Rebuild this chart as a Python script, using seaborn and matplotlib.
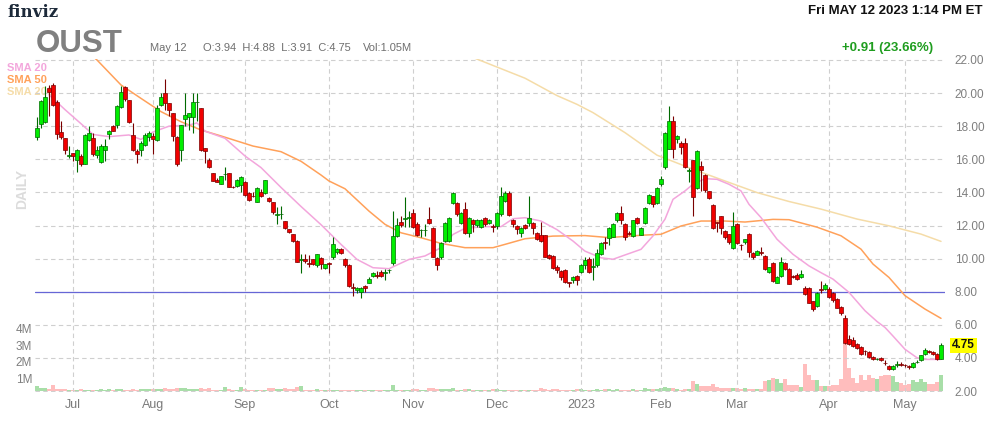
import numpy as np
import pandas as pd
import matplotlib
matplotlib.use("Agg")
import matplotlib.pyplot as plt
import matplotlib.transforms as mtransforms
import seaborn as sns

sns.set_style("white")
plt.rcParams['font.family'] = ['Liberation Sans', 'DejaVu Sans']

# ---------------- data ----------------
holidays = ["2022-06-20", "2022-07-04", "2022-09-05", "2022-11-24", "2022-12-26",
            "2023-01-02", "2023-01-16", "2023-02-20", "2023-04-07"]
dates = pd.bdate_range("2022-06-17", "2023-05-12", freq="C", holidays=holidays)

opens = [17.33, 18.13, 18.23, 20.29, 20.49, 19.44, 17.67, 17.27, 16.20, 16.36,
         15.96, 16.20, 15.70, 17.17, 17.27, 16.26, 15.82, 16.56, 17.53, 18.00,
         18.07, 19.18, 20.35, 19.58, 17.45, 16.50, 16.56, 16.86, 17.33, 17.40,
         17.17, 19.28, 19.99, 19.38, 18.78, 17.37, 16.56, 18.41, 18.54, 18.54,
         19.44, 19.08, 16.66, 15.96, 15.15, 14.75, 14.51, 15.10, 15.15, 14.35,
         14.40, 14.45, 14.65, 13.94, 13.80, 13.40, 14.04, 13.94, 13.68, 13.44,
         12.66, 12.68, 12.25, 11.77, 11.47, 11.06, 9.90, 9.95, 9.75, 9.95,
         9.60, 10.05, 9.45, 9.75, 10.12, 10.40, 10.60, 10.00, 9.60, 8.30,
         8.10, 8.00, 8.35, 8.55, 8.95, 9.00, 9.20, 9.15, 9.30, 9.71,
         11.36, 12.20, 12.40, 12.45, 12.74, 12.10, 11.70, 11.70, 12.40, 11.87,
         10.06, 10.12, 11.08, 11.08, 13.38, 13.38, 12.15, 13.00, 11.57, 12.35,
         12.05, 11.90, 12.47, 12.18, 11.95, 11.98, 12.67, 13.50, 13.94, 12.35,
         12.00, 11.57, 12.00, 12.18, 12.18, 11.53, 11.40, 11.40, 10.20, 10.16,
         9.50, 9.25, 9.30, 8.60, 8.70, 8.95, 9.20, 9.60, 10.00, 9.50,
         9.60, 10.26, 11.00, 11.27, 11.33, 12.33, 12.78, 12.11, 11.55, 11.37,
         12.43, 11.43, 12.17, 13.38, 13.79, 13.38, 14.53, 15.54, 16.65, 18.32,
         17.25, 17.01, 17.01, 15.30, 15.96, 14.29, 15.60, 15.03, 14.09, 13.22,
         12.20, 12.58, 11.67, 11.47, 10.66, 12.11, 10.83, 11.03, 11.51, 10.36,
         10.22, 10.38, 10.16, 9.19, 9.76, 8.55, 8.95, 9.76, 9.40, 8.93,
         9.00, 8.90, 8.25, 8.24, 7.44, 7.14, 8.15, 8.18, 8.18, 7.94,
         7.54, 7.10, 6.43, 5.16, 5.08, 4.82, 4.66, 4.44, 4.38, 4.08,
         3.92, 3.97, 3.70, 3.51, 3.31, 3.60, 3.63, 3.57, 3.50, 3.47,
         3.74, 3.85, 4.22, 4.38, 4.36, 4.26, 3.94]
highs = [18.58, 19.60, 20.40, 20.50, 20.63, 19.60, 18.30, 17.30, 16.80, 16.40,
         16.60, 16.30, 17.50, 18.00, 17.60, 16.80, 16.90, 17.20, 17.80, 18.10,
         19.30, 20.40, 20.40, 19.60, 18.20, 16.60, 17.10, 17.60, 17.70, 17.60,
         19.30, 20.00, 20.85, 19.40, 18.80, 17.40, 18.10, 20.00, 18.80, 20.00,
         20.00, 19.10, 16.70, 16.10, 15.20, 14.90, 15.00, 15.55, 15.20, 14.40,
         14.80, 15.00, 14.70, 14.00, 14.00, 14.30, 14.20, 14.76, 13.70, 13.45,
         13.10, 13.20, 12.30, 11.80, 11.50, 11.10, 10.30, 10.30, 10.20, 10.00,
         10.30, 10.10, 9.70, 9.80, 11.30, 10.65, 10.65, 10.05, 9.65, 8.55,
         8.30, 8.30, 8.40, 8.90, 9.20, 9.25, 9.30, 9.35, 9.40, 12.90,
         12.45, 12.60, 13.70, 12.90, 13.00, 12.20, 11.80, 12.10, 13.10, 11.90,
         10.10, 11.00, 12.20, 12.50, 14.00, 13.40, 12.80, 13.40, 12.50, 12.40,
         12.40, 12.40, 12.50, 12.40, 12.10, 12.80, 14.30, 14.10, 14.10, 12.40,
         12.05, 11.90, 12.10, 13.80, 12.20, 11.60, 12.20, 11.45, 10.25, 10.20,
         9.60, 9.30, 9.35, 8.60, 8.95, 9.00, 9.70, 10.10, 10.10, 10.05,
         10.60, 11.00, 11.30, 11.90, 12.15, 12.80, 13.20, 12.15, 11.65, 12.35,
         12.50, 11.90, 13.10, 13.90, 13.80, 14.30, 15.00, 17.65, 19.20, 18.60,
         17.45, 17.10, 17.30, 15.50, 15.98, 16.55, 15.90, 15.10, 14.10, 13.30,
         12.20, 12.60, 11.70, 11.50, 12.80, 12.15, 10.90, 11.20, 11.55, 10.40,
         10.50, 10.70, 10.20, 9.50, 9.80, 8.95, 10.10, 9.80, 9.45, 9.00,
         9.10, 9.30, 8.35, 8.30, 7.45, 8.00, 8.65, 8.50, 8.30, 8.00,
         7.60, 7.15, 6.60, 5.40, 5.25, 4.90, 4.70, 4.50, 4.42, 4.12,
         3.98, 4.05, 3.85, 3.55, 3.55, 3.80, 3.75, 3.65, 3.60, 3.75,
         3.85, 4.20, 4.60, 4.45, 4.40, 4.30, 4.88]
lows = [17.17, 17.90, 18.20, 18.60, 19.20, 17.20, 17.20, 16.30, 16.05, 15.90,
        15.25, 15.60, 15.70, 17.10, 16.20, 16.10, 15.80, 15.90, 17.20, 17.70,
        17.90, 19.10, 19.50, 18.20, 16.50, 15.80, 16.20, 16.80, 17.10, 16.30,
        17.10, 19.20, 19.00, 18.60, 17.10, 15.60, 15.90, 18.00, 17.80, 17.60,
        18.30, 16.50, 15.80, 15.50, 14.70, 14.60, 14.50, 14.75, 14.30, 14.25,
        14.30, 14.00, 13.80, 13.50, 13.70, 13.40, 13.70, 13.90, 13.40, 12.70,
        12.10, 12.40, 11.80, 11.55, 11.00, 9.80, 9.10, 9.75, 9.50, 9.60,
        9.50, 9.40, 9.40, 9.10, 10.00, 10.30, 10.30, 9.50, 8.30, 7.75,
        7.90, 7.60, 8.00, 8.50, 8.90, 8.85, 8.90, 8.70, 9.10, 9.60,
        11.30, 11.90, 11.90, 11.90, 11.85, 11.35, 11.30, 11.35, 12.10, 10.10,
        9.30, 10.00, 11.00, 11.00, 13.30, 12.60, 12.10, 11.50, 11.30, 11.60,
        11.90, 11.85, 12.00, 12.10, 11.60, 11.80, 12.60, 13.40, 12.60, 11.90,
        11.50, 11.30, 11.80, 12.00, 11.50, 11.10, 11.00, 10.10, 10.00, 9.40,
        9.10, 8.70, 8.55, 8.30, 8.50, 8.40, 9.10, 9.40, 9.10, 8.70,
        9.50, 10.20, 10.60, 10.80, 11.30, 12.20, 12.10, 11.10, 11.40, 11.30,
        12.10, 11.40, 12.10, 13.30, 13.10, 13.30, 14.40, 15.40, 16.60, 16.10,
        17.00, 16.30, 15.50, 14.60, 12.60, 14.20, 14.10, 14.00, 13.60, 11.80,
        11.60, 11.50, 11.20, 10.90, 10.60, 10.90, 10.50, 10.90, 10.10, 10.00,
        10.20, 10.20, 9.30, 9.10, 8.60, 8.50, 8.90, 9.30, 8.45, 8.80,
        8.70, 8.85, 7.80, 7.30, 6.85, 7.10, 7.90, 8.10, 7.60, 7.40,
        7.00, 6.60, 4.85, 4.75, 4.65, 4.55, 4.15, 4.20, 4.00, 3.85,
        3.85, 3.80, 3.60, 3.25, 3.25, 3.45, 3.50, 3.45, 3.30, 3.40,
        3.70, 3.80, 4.20, 4.30, 4.15, 3.85, 3.91]
closes = [17.87, 19.54, 19.74, 20.05, 19.28, 17.53, 17.33, 16.56, 16.25, 16.22,
          16.56, 15.70, 17.47, 17.60, 16.30, 16.56, 16.80, 16.80, 17.70, 17.73,
          19.22, 20.05, 19.62, 18.23, 16.56, 16.30, 16.96, 17.45, 17.60, 17.20,
          19.08, 19.78, 19.42, 18.98, 17.40, 15.70, 18.05, 18.68, 18.78, 19.44,
          19.46, 16.56, 16.52, 15.51, 14.71, 14.65, 14.99, 15.12, 14.31, 14.30,
          14.75, 14.95, 13.84, 13.54, 13.78, 14.25, 13.78, 14.75, 13.50, 12.80,
          12.68, 12.70, 11.83, 11.59, 11.06, 9.81, 9.95, 9.88, 9.68, 9.68,
          10.28, 9.66, 9.65, 9.70, 10.90, 10.60, 10.36, 9.60, 8.35, 8.25,
          8.20, 8.25, 8.20, 8.75, 9.15, 8.95, 8.95, 9.20, 9.32, 11.37,
          12.00, 12.05, 12.45, 12.50, 11.88, 11.40, 11.75, 11.72, 12.15, 10.12,
          9.60, 10.96, 12.15, 12.45, 13.94, 12.67, 12.74, 11.57, 12.43, 12.10,
          12.35, 12.33, 12.07, 12.35, 11.90, 12.74, 13.80, 13.94, 12.62, 12.10,
          11.77, 11.87, 11.87, 12.47, 11.87, 11.20, 11.05, 10.12, 10.06, 9.45,
          9.32, 8.90, 8.60, 8.55, 8.90, 8.70, 9.60, 9.90, 9.20, 9.55,
          10.36, 10.92, 10.93, 11.87, 12.11, 12.74, 12.33, 11.33, 11.50, 12.31,
          12.17, 11.87, 13.08, 13.83, 13.28, 14.29, 14.79, 17.61, 18.32, 16.65,
          17.41, 16.77, 15.56, 15.35, 13.74, 16.50, 15.36, 14.15, 13.68, 11.87,
          12.15, 11.87, 11.33, 11.00, 11.97, 10.97, 10.80, 11.17, 10.42, 10.12,
          10.46, 10.34, 9.35, 9.49, 8.65, 8.91, 9.80, 9.40, 8.49, 8.90,
          8.75, 9.05, 7.84, 7.34, 6.93, 7.94, 8.10, 8.38, 7.70, 7.50,
          7.04, 6.69, 4.92, 4.82, 4.72, 4.62, 4.22, 4.40, 4.07, 3.91,
          3.95, 3.85, 3.67, 3.31, 3.51, 3.63, 3.60, 3.55, 3.47, 3.71,
          3.77, 4.15, 4.48, 4.36, 4.22, 3.91, 4.75]
volume_m = [0.30, 0.20, 0.20, 0.14, 0.38, 0.10, 0.10, 0.10, 0.08, 0.08,
            0.08, 0.10, 0.08, 0.06, 0.05, 0.05, 0.10, 0.05, 0.10, 0.06,
            0.10, 0.10, 0.05, 0.05, 0.10, 0.05, 0.10, 0.10, 0.10, 0.10,
            0.10, 0.10, 0.18, 0.12, 0.12, 0.20, 0.20, 0.20, 0.10, 0.10,
            0.10, 0.18, 0.10, 0.16, 0.08, 0.06, 0.06, 0.22, 0.10, 0.05,
            0.05, 0.22, 0.10, 0.05, 0.08, 0.08, 0.05, 0.05, 0.16, 0.20,
            0.14, 0.14, 0.20, 0.14, 0.14, 0.24, 0.32, 0.06, 0.06, 0.06,
            0.10, 0.06, 0.08, 0.08, 0.06, 0.06, 0.08, 0.08, 0.08, 0.08,
            0.05, 0.05, 0.05, 0.06, 0.08, 0.05, 0.05, 0.05, 0.06, 0.38,
            0.08, 0.08, 0.08, 0.04, 0.10, 0.10, 0.04, 0.04, 0.20, 0.20,
            0.10, 0.10, 0.10, 0.10, 0.20, 0.06, 0.06, 0.10, 0.10, 0.06,
            0.06, 0.04, 0.08, 0.08, 0.14, 0.10, 0.08, 0.06, 0.06, 0.06,
            0.04, 0.04, 0.06, 0.08, 0.06, 0.06, 0.20, 0.10, 0.06, 0.10,
            0.10, 0.06, 0.06, 0.06, 0.08, 0.14, 0.10, 0.06, 0.06, 0.06,
            0.10, 0.06, 0.10, 0.10, 0.08, 0.10, 0.06, 0.06, 0.06, 0.10,
            0.06, 0.06, 0.20, 0.10, 0.12, 0.14, 0.20, 0.26, 0.20, 0.16,
            0.10, 0.08, 0.12, 0.10, 0.59, 0.44, 0.30, 0.30, 0.28, 0.40,
            0.22, 0.20, 0.20, 0.18, 0.20, 0.18, 0.14, 0.20, 0.14, 0.14,
            0.10, 0.14, 0.58, 0.65, 0.81, 0.75, 0.50, 0.75, 0.38, 0.38,
            0.38, 0.26, 1.66, 0.99, 0.65, 0.65, 0.28, 0.28, 0.30, 0.34,
            0.38, 0.75, 2.83, 1.39, 0.81, 0.50, 0.99, 0.69, 0.95, 0.81,
            0.75, 0.89, 0.99, 0.95, 0.93, 0.55, 0.50, 0.38, 0.44, 0.65,
            0.55, 0.71, 0.55, 0.40, 0.44, 0.55, 0.95]

sma20_day = [3, 7, 11, 14, 18, 23, 26, 29, 33, 38, 40, 42, 47, 52, 56, 61, 66, 71, 76, 80,
             84, 88, 93, 97, 101, 104, 107, 112, 116, 119, 122, 126, 130, 134, 137, 141,
             144, 147, 151, 154, 157, 159, 162, 164, 167, 170, 173, 176, 178, 181, 185,
             189, 193, 196, 199, 203, 207, 210, 212, 214, 217, 220, 222, 226]
sma20_val = [19.9, 19.0, 18.15, 17.5, 17.37, 17.47, 17.2, 17.65, 18.0, 18.07, 18.2, 17.7,
             17.27, 16.2, 15.5, 14.3, 13.15, 12.05, 10.86, 9.95, 9.45, 9.39, 9.95, 10.16,
             10.66, 11.46, 11.83, 11.93, 11.93, 12.41, 12.47, 12.27, 11.75, 11.06, 10.45,
             10.05, 9.96, 10.22, 10.56, 11.37, 12.38, 13.58, 14.09, 14.49, 14.83, 14.79,
             14.49, 14.09, 13.28, 12.48, 11.17, 10.26, 9.56, 9.15, 8.76, 7.96, 6.85, 6.2,
             5.84, 5.32, 4.52, 4.01, 3.91, 3.91]
sma50_day = [13, 15, 21, 26, 31, 36, 41, 46, 54, 61, 66, 71, 73, 77, 83, 87, 91, 96, 101,
             107, 114, 117, 122, 129, 137, 143, 151, 156, 161, 166, 172, 177, 184, 188,
             195, 201, 206, 209, 213, 217, 222, 226]
sma50_val = [22.4, 22.0, 20.49, 19.68, 18.88, 18.27, 17.77, 17.41, 16.8, 16.46, 15.88,
             15.05, 14.69, 14.22, 12.87, 12.07, 11.56, 11.26, 10.92, 10.66, 10.66, 10.86,
             11.2, 11.36, 11.39, 11.27, 11.41, 11.47, 11.97, 12.27, 12.27, 12.21, 12.37,
             12.35, 11.9, 11.38, 10.57, 9.67, 8.86, 7.76, 6.95, 6.39]
sma200_day = [109, 122, 130, 135, 139, 147, 155, 164, 172, 180, 188, 196, 205, 213, 221, 226]
sma200_val = [22.15, 20.9, 19.85, 19.32, 18.82, 17.61, 16.25, 15.4, 14.69, 13.99, 13.45,
              12.99, 12.39, 11.98, 11.48, 11.04]

month_labels = ["Jul", "Aug", "Sep", "Oct", "Nov", "Dec", "2023", "Feb", "Mar", "Apr", "May"]
price_ticks = [2, 4, 6, 8, 10, 12, 14, 16, 18, 20, 22]
vol_ticks_m = [1, 2, 3, 4]
support_level = 8.0

# ---------------- figure ----------------
o, h, l, c = (np.array(a) for a in (opens, highs, lows, closes))
n = len(c)
day = np.arange(n)
up = c >= o

W, H = 991, 422
fig = plt.figure(figsize=(W / 100, H / 100), dpi=100)
L, R, T, B = 35, 945, 59, 392
ax = fig.add_axes([L / W, 1 - B / H, (R - L) / W, (B - T) / H])
ax2 = ax.twinx()
ax.set_zorder(2)
ax2.set_zorder(1)
ax.patch.set_visible(False)
ax2.patch.set_visible(False)

ymin, ymax = 1.94, 22.06

# volume bars
vol_df = pd.DataFrame({"day": day, "volume": np.array(volume_m) * 1e6,
                       "dir": np.where(up, "up", "down")})
sns.barplot(data=vol_df, x="day", y="volume", hue="dir",
            palette={"up": "#a8dea8", "down": "#ffbdbd"}, native_scale=True,
            dodge=False, width=1.0, saturation=1, errorbar=None, linewidth=0,
            legend=False, ax=ax2)

# grid
grid_kw = dict(color="#cfcfcf", linewidth=0.8, linestyle=(0, (4, 3)), zorder=0)
month_pos = np.flatnonzero(dates.month[1:] != dates.month[:-1]) + 1
for p in price_ticks:
    ax.axhline(p, **grid_kw)
for m in month_pos:
    ax.axvline(m, **grid_kw)
ax.axhline(support_level, color="#6666d6", linewidth=0.9, zorder=1)

# moving averages
sns.lineplot(x=sma200_day, y=sma200_val, ax=ax, color="#f5dca8", linewidth=1.1, zorder=2)
sns.lineplot(x=sma50_day, y=sma50_val, ax=ax, color="#ffa15a", linewidth=1.1, zorder=2)
sns.lineplot(x=sma20_day, y=sma20_val, ax=ax, color="#f3a6dc", linewidth=1.1, zorder=2)

# candles
edge = np.where(up, "#006a00", "#7a0000")
fill = np.where(up, "#00ee00", "#f00000")
ax.vlines(day, l, h, colors=edge, linewidth=0.8, zorder=3)
ax.bar(day, np.maximum(np.abs(c - o), 0.03), bottom=np.minimum(o, c), width=0.8,
       color=fill, edgecolor=edge, linewidth=0.5, zorder=4)

# axes setup
ax.set_xlim(-0.5, 227.0)
ax.set_ylim(ymin, ymax)
ax2.set_ylim((ymin - 2) * 1e6, (ymax - 2) * 1e6)
ax.set_xticks(month_pos, month_labels)
ax.yaxis.tick_right()
ax.set_yticks(price_ticks, [f"{p:.2f}" for p in price_ticks])
ax.tick_params(axis="x", length=0, pad=5, labelsize=9, labelcolor="#7a7a7a")
ax.tick_params(axis="y", length=0, pad=7, labelsize=8.5, labelcolor="#7f7f7f")
ax2.yaxis.tick_left()
ax2.set_yticks([v * 1e6 for v in vol_ticks_m], [f"{v}M" for v in vol_ticks_m])
ax2.tick_params(axis="y", length=0, pad=2, labelsize=8.5, labelcolor="#7f7f7f")
for lab in ax2.get_yticklabels():
    lab.set_transform(lab.get_transform() +
                      mtransforms.ScaledTranslation(0, -4 / 100, fig.dpi_scale_trans))
for a in (ax, ax2):
    a.grid(False)
    a.set_xlabel("")
    a.set_ylabel("")
    for s in a.spines.values():
        s.set_visible(False)

# last price tag
ax.annotate(f"{c[-1]:.2f}", xy=(1, c[-1]), xycoords=("axes fraction", "data"),
            xytext=(5, 0), textcoords="offset points", ha="left", va="center",
            fontsize=8.5, fontweight="bold", color="#111111", annotation_clip=False,
            bbox=dict(boxstyle="square,pad=0.15", fc="#ffff00", ec="none"))

# header texts
def fx(x): return x / W
def fy(y): return 1 - y / H

fig.text(fx(8), fy(17), "finviz", family="DejaVu Serif", fontweight="bold",
         fontsize=12, color="#1d2a3a", va="baseline")
fig.text(fx(36), fy(52), "OUST", fontsize=22.5, fontweight="bold", color="#808080",
         va="baseline")
fig.text(fx(150), fy(48), "May 12", fontsize=8, color="#6f6f6f", va="center")
fig.text(fx(203), fy(48), f"O:{o[-1]:.2f}  H:{h[-1]:.2f}  L:{l[-1]:.2f}  C:{c[-1]:.2f}",
         fontsize=8, color="#6f6f6f", va="center")
fig.text(fx(363), fy(48), "Vol:1.05M", fontsize=8, color="#6f6f6f", va="center")
fig.text(fx(983), fy(11), "Fri MAY 12 2023 1:14 PM ET", ha="right", va="center",
         fontweight="bold", fontsize=9.5, color="#111111")
fig.text(fx(933), fy(48), "+0.91 (23.66%)", ha="right", va="center",
         fontweight="bold", fontsize=9.5, color="#1f9d1f")
fig.text(fx(22), fy(189), "DAILY", rotation=90, ha="center", va="center",
         fontweight="bold", fontsize=10, color="#dcdcdc")
for yy, txt, col in [(68, "SMA 20", "#f3a6dc"), (80, "SMA 50", "#ffa15a"),
                     (92, "SMA 200", "#f5dca8")]:
    fig.text(fx(7), fy(yy), txt, fontsize=8, fontweight="bold", color=col,
             va="center", zorder=-1)

fig.savefig("out.png", dpi=100)
